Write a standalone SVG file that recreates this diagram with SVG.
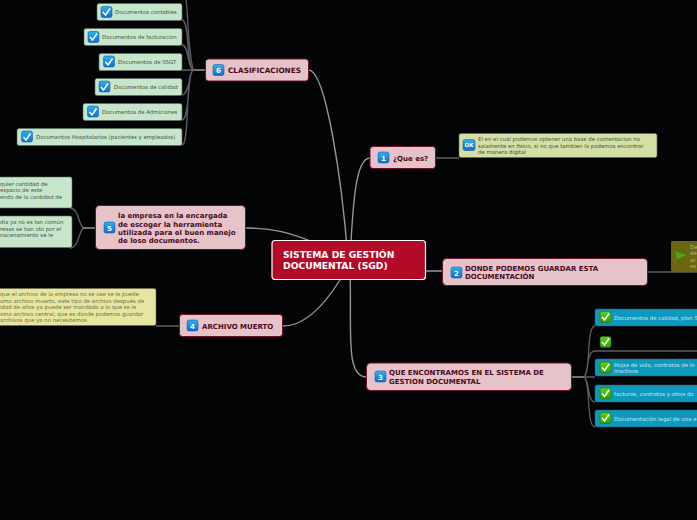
<svg xmlns="http://www.w3.org/2000/svg" width="697" height="520" viewBox="0 0 697 520">
<defs>
<linearGradient id="bl" x1="0" y1="0" x2="0" y2="1"><stop offset="0" stop-color="#2fb0f5"/><stop offset="1" stop-color="#0a6fd8"/></linearGradient>
<linearGradient id="gr" x1="0" y1="0" x2="0" y2="1"><stop offset="0" stop-color="#5fd21c"/><stop offset="1" stop-color="#2f9c08"/></linearGradient>
</defs>
<style>
text{font-family:"DejaVu Sans","Liberation Sans",sans-serif}
.c{fill:none;stroke:#969696;stroke-width:1.4}
.d{fill:none;stroke:#5c5f60;stroke-width:1.3}
.s{fill:none;stroke:#a0a0a0;stroke-width:1.4}
.m{fill:#e6c3c9;stroke:#6e1028;stroke-width:1}
.mt{font-size:7px;font-weight:bold;fill:#4a0a20}
.g{fill:#c6e6cb;stroke:#5d6b60;stroke-width:.6}
.t{font-size:5.400px;fill:#3f5545}
.w{font-size:5.400px;fill:#c9eaf2}
.b{fill:#0f98bd;stroke:#3c5560;stroke-width:.6}
.i{fill:url(#bl);stroke:#0b4f90;stroke-width:.5}
.k{fill:url(#gr);stroke:#1c6a06;stroke-width:.5}
.n{font-size:7px;font-weight:bold;fill:#fff;text-anchor:middle}
.ck{fill:none;stroke:#fff;stroke-width:1.500}
</style>
<rect width="697" height="520" fill="#030406"/>
<g id="connectors">
<path class="c" d="M348 260C342 180 326 72 309 70M350 260C353 200 356 158 370 158M246 228C272 228 290 232 320 245M340 280C320 312 300 326 283 326M426 271H442M350 270C352 330 345 376 366 377"/>
<path class="d" d="M436 158H459M648 272H697M179 326H156M83 228C78 222 78 208 70 208M83 228C78 235 78 248 70 248"/>
<path class="s" d="M95 228H83"/>
<path class="d" d="M193 70C186 66 190 20 182 20M193 70C187 66 189 45 182 45M193 70H99M193 70C189 74 189 95 182 95M193 70C187 74 190 120 182 120M193 70C185 74 190 145 182 145M186 0C188 10 187 40 193 70"/>
<path class="s" d="M205 70H193"/>
<path class="d" d="M584 377C591 372 586 326 595 326M584 377C589 372 586 351 595 351H697M584 377H595M584 377C590 381 587 402 595 402M584 377C591 382 586 427 595 427"/>
<path class="s" d="M572 377H584"/>
</g>
<g id="root"><rect x="272" y="240.500" width="153.500" height="39" rx="3" fill="#b30a28" stroke="#fff" stroke-width="1.200"/><text x="283" y="258" font-size="9.200" font-weight="bold" fill="#fff">SISTEMA DE GESTIÓN</text><text x="283" y="269" font-size="9.200" font-weight="bold" fill="#fff">DOCUMENTAL (SGD)</text></g>
<g id="n1"><rect class="m" x="370" y="146.500" width="65.500" height="22" rx="3"/><rect class="i" x="378" y="152" width="11" height="11" rx="2"/><text class="n" x="383.500" y="160.500">1</text><text class="mt" x="393" y="160.500">¿Que es?</text></g>
<g id="n1a"><rect x="459" y="133.500" width="198" height="24" rx="2" fill="#d3dfa4" stroke="#5f6650" stroke-width=".6"/><rect class="i" x="463" y="139.500" width="12" height="11" rx="2"/><text x="469" y="147" font-size="5.500" font-weight="bold" fill="#fff" text-anchor="middle">OK</text><text class="t" x="478" y="141">El en el cual podemos optener una base de comentacion no</text><text class="t" x="478" y="147.500">salamente en fisico, si no que tambien la podemos encontrar</text><text class="t" x="478" y="154">de manera digital</text></g>
<g id="n2"><rect class="m" x="442.500" y="258.500" width="205" height="27" rx="4"/><rect class="i" x="451" y="267" width="11" height="11" rx="2"/><text class="n" x="456.500" y="275.500">2</text><text class="mt" x="465" y="270.500">DONDE PODEMOS GUARDAR ESTA</text><text class="mt" x="465" y="279">DOCUMENTACIÓN</text></g>
<g id="n2a"><rect x="671" y="241" width="30" height="31" rx="2" fill="#6b6612"/><path d="M676 252L687 255L677 259Z" fill="#3fb00f"/><path d="M675.500 251V264" stroke="#7d6a20" stroke-width="1"/><text x="690" y="249" font-size="5.400" fill="#b9b57c">De</text><text x="690" y="255" font-size="5.400" fill="#b9b57c">de</text><text x="690" y="262" font-size="5.400" fill="#b9b57c">ac</text><text x="690" y="268" font-size="5.400" fill="#b9b57c">es</text></g>
<g id="n3"><rect class="m" x="366.500" y="363" width="205" height="27.500" rx="4"/><rect class="i" x="375" y="371" width="11" height="11" rx="2"/><text class="n" x="380.500" y="379.500">3</text><text class="mt" x="389" y="375">QUE ENCONTRAMOS EN EL SISTEMA DE</text><text class="mt" x="389" y="384">GESTION DOCUMENTAL</text></g>
<g id="n3a"><rect class="b" x="595" y="309" width="110" height="17" rx="2"/><rect class="k" x="600" y="311.500" width="11" height="11" rx="2"/><path class="ck" d="M602 317L604.500 320L609 313.500"/><text class="w" x="614" y="320">Documentos de calidad, plan S</text></g>
<g id="n3b"><rect class="k" x="600" y="336.500" width="11" height="11" rx="2"/><path class="ck" d="M602 342L604.500 345L609 338.500"/><text x="614" y="345" font-size="5.400" fill="#0b0c0d">Documentos dago de cartera</text></g>
<g id="n3c"><rect class="b" x="595" y="359" width="110" height="17" rx="2"/><rect class="k" x="600" y="362" width="11" height="11" rx="2"/><path class="ck" d="M602 367.500L604.500 370.500L609 364"/><text class="w" x="614" y="367">Hojas de vida, contratos de lo</text><text class="w" x="614" y="373">inactivos</text></g>
<g id="n3d"><rect class="b" x="595" y="385" width="110" height="17" rx="2"/><rect class="k" x="600" y="388" width="11" height="11" rx="2"/><path class="ck" d="M602 393.500L604.500 396.500L609 390"/><text class="w" x="614" y="396">facturas, contratos y otros do</text></g>
<g id="n3e"><rect class="b" x="595" y="410" width="110" height="17" rx="2"/><rect class="k" x="600" y="412.500" width="11" height="11" rx="2"/><path class="ck" d="M602 418L604.500 421L609 414.500"/><text class="w" x="614" y="421">Documentación legal de una e</text></g>
<g id="n4"><rect class="m" x="179.500" y="314.500" width="103" height="22" rx="3"/><rect class="i" x="187" y="320" width="11" height="11" rx="2"/><text class="n" x="192.500" y="328.500">4</text><text class="mt" x="202" y="329">ARCHIVO MUERTO</text></g>
<g id="n4a"><rect x="-10" y="288.500" width="166" height="37" rx="2" fill="#e6e6a0" stroke="#6a6a50" stroke-width=".6"/><g font-size="5.400" fill="#6e6e48"><text x="0" y="296">que el archivo de la empresa no se use se le puede</text><text x="0" y="302.500">omo archivo muerto, este tipo de archivo después de</text><text x="0" y="309">idad de años ya puede ser mandado a lo que se le</text><text x="0" y="315.500">omo archivo central, que es donde podemos guardar</text><text x="0" y="322">archivos que ya no necesitemos.</text></g></g>
<g id="n5"><rect class="m" x="95.500" y="205.500" width="150" height="44" rx="4"/><rect class="i" x="104" y="222" width="11" height="11" rx="2"/><text class="n" x="109.500" y="230.500">5</text><text class="mt" x="118" y="218">la empresa en la encargada</text><text class="mt" x="118" y="226.500">de escoger la herramienta</text><text class="mt" x="118" y="235">utilizada para el buen manejo</text><text class="mt" x="118" y="243">de loso documentos.</text></g>
<g id="n5a"><rect class="g" x="-10" y="177" width="82" height="31" rx="2"/><text class="t" x="0" y="185.500">quier cantidad de</text><text class="t" x="0" y="192">espacio de este</text><text class="t" x="0" y="198.500">endo de la cantidad de</text></g>
<g id="n5b"><rect class="g" x="-10" y="216" width="82" height="31.500" rx="2"/><text class="t" x="0" y="224">día ya no es tan común</text><text class="t" x="0" y="230.500">resas se han ido por el</text><text class="t" x="0" y="236.500">nacenamiento se le</text></g>
<g id="n6"><rect class="m" x="205.500" y="59" width="103" height="22" rx="3"/><rect class="i" x="213" y="64.500" width="11" height="11" rx="2"/><text class="n" x="218.500" y="73">6</text><text class="mt" style="font-size:7.300px" x="228" y="73">CLASIFICACIONES</text></g>
<g id="n6a"><rect class="g" x="97" y="3.500" width="85" height="17" rx="2"/><rect class="i" x="101" y="6.500" width="11" height="11" rx="2"/><path class="ck" d="M103 12L105.500 15L110 8.500"/><text class="t" x="115" y="14">Documentos contables</text></g>
<g id="n6b"><rect class="g" x="84" y="28.500" width="98" height="17" rx="2"/><rect class="i" x="88" y="31.500" width="11" height="11" rx="2"/><path class="ck" d="M90 37L92.500 40L97 33.500"/><text class="t" x="102" y="39">Documentos de facturacion</text></g>
<g id="n6c"><rect class="g" x="99" y="53.500" width="83" height="17" rx="2"/><rect class="i" x="103.500" y="56" width="11" height="11" rx="2"/><path class="ck" d="M105.500 62L108 65L112.500 58.500"/><text class="t" x="118" y="64">Documentos de SSGT</text></g>
<g id="n6d"><rect class="g" x="95" y="78.500" width="87" height="17" rx="2"/><rect class="i" x="99" y="81" width="11" height="11" rx="2"/><path class="ck" d="M101 87L103.500 90L108 83.500"/><text class="t" x="114" y="89">Documentos de calidad</text></g>
<g id="n6e"><rect class="g" x="83" y="103.500" width="99" height="17" rx="2"/><rect class="i" x="87.500" y="106" width="11" height="11" rx="2"/><path class="ck" d="M89.500 112L92 115L96.500 108.500"/><text class="t" x="102" y="114">Documentos de Admiciones</text></g>
<g id="n6f"><rect class="g" x="17" y="128.500" width="165" height="17" rx="2"/><rect class="i" x="21.500" y="131" width="11" height="11" rx="2"/><path class="ck" d="M23.500 137L26 140L30.500 133.500"/><text class="t" x="36" y="139">Documentos Hospitalarios (pacientes y empleados)</text></g>
</svg>
